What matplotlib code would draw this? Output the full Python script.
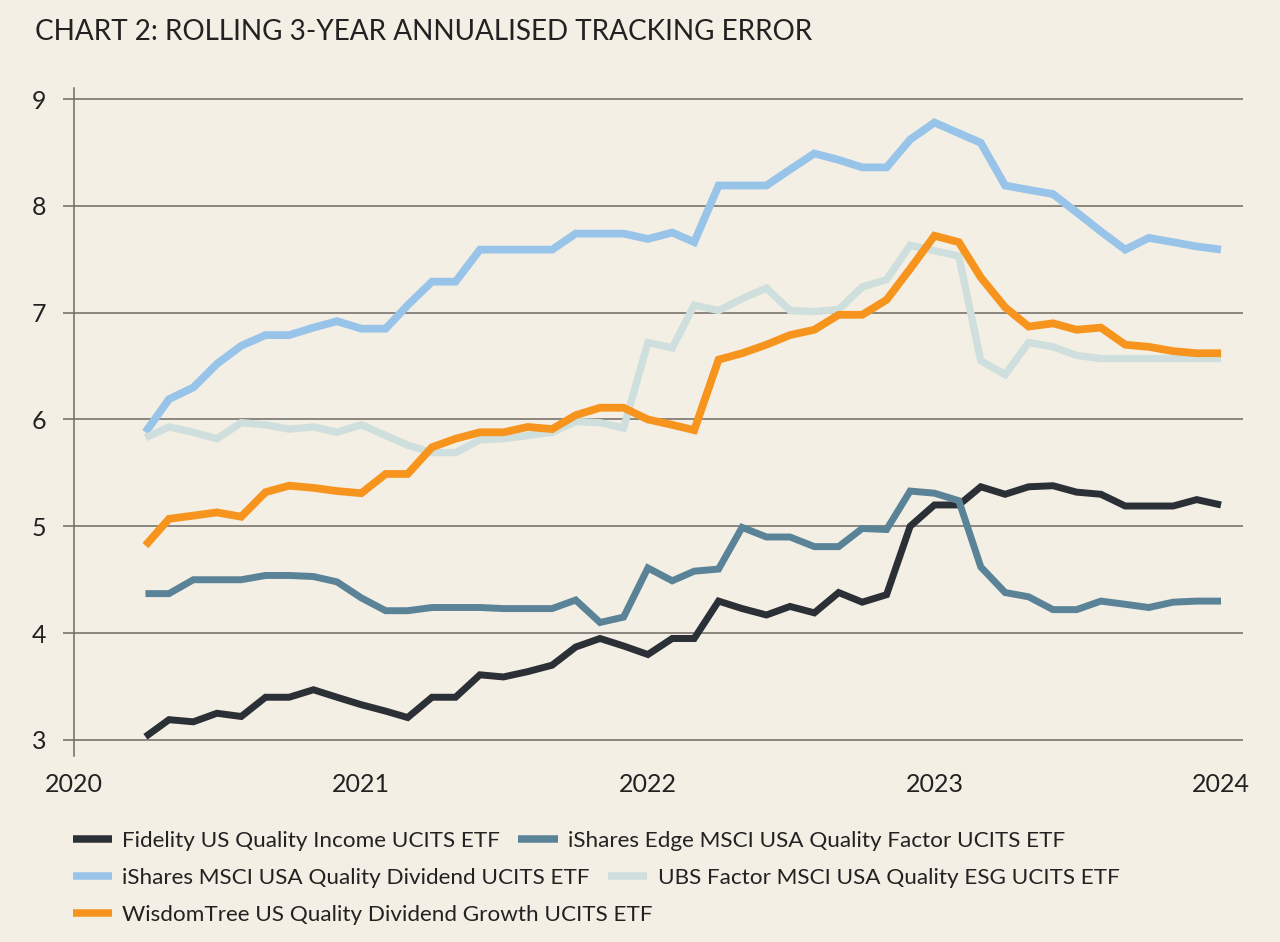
import matplotlib
matplotlib.use('Agg')
import matplotlib.pyplot as plt
from matplotlib.lines import Line2D
import pandas as pd

plt.rcParams['font.family'] = ['Lato', 'DejaVu Sans']
plt.rcParams['font.weight'] = 'normal'

# ---------------- data ----------------
dates = pd.date_range('2020-04-01', '2024-01-01', freq='MS')

fidelity = [3.03, 3.19, 3.17, 3.25, 3.22, 3.40, 3.40, 3.47, 3.40, 3.33,
            3.27, 3.21, 3.40, 3.40, 3.61, 3.59, 3.64, 3.70, 3.87, 3.95,
            3.88, 3.80, 3.95, 3.95, 4.30, 4.23, 4.17, 4.25, 4.19, 4.38,
            4.29, 4.36, 5.00, 5.20, 5.20, 5.37, 5.30, 5.37, 5.38, 5.32,
            5.30, 5.19, 5.19, 5.19, 5.25, 5.20]

ishares_edge = [4.37, 4.37, 4.50, 4.50, 4.50, 4.54, 4.54, 4.53, 4.48, 4.33,
                4.21, 4.21, 4.24, 4.24, 4.24, 4.23, 4.23, 4.23, 4.31, 4.10,
                4.15, 4.61, 4.49, 4.58, 4.60, 4.99, 4.90, 4.90, 4.81, 4.81,
                4.98, 4.97, 5.33, 5.31, 5.24, 4.62, 4.38, 4.34, 4.22, 4.22,
                4.30, 4.27, 4.24, 4.29, 4.30, 4.30]

ishares_div = [5.88, 6.19, 6.30, 6.52, 6.69, 6.79, 6.79, 6.86, 6.92, 6.85,
               6.85, 7.07, 7.29, 7.29, 7.59, 7.59, 7.59, 7.59, 7.74, 7.74,
               7.74, 7.69, 7.75, 7.66, 8.19, 8.19, 8.19, 8.34, 8.49, 8.43,
               8.36, 8.36, 8.62, 8.78, 8.68, 8.59, 8.19, 8.15, 8.11, 7.94,
               7.76, 7.59, 7.70, 7.66, 7.62, 7.59]

ubs = [5.83, 5.93, 5.88, 5.82, 5.97, 5.95, 5.91, 5.93, 5.88, 5.95,
       5.85, 5.76, 5.69, 5.69, 5.81, 5.82, 5.85, 5.88, 5.98, 5.97,
       5.92, 6.72, 6.67, 7.07, 7.02, 7.13, 7.23, 7.02, 7.01, 7.03,
       7.24, 7.31, 7.63, 7.58, 7.53, 6.55, 6.42, 6.72, 6.68, 6.60,
       6.57, 6.57, 6.57, 6.57, 6.57, 6.57]

wisdomtree = [4.82, 5.07, 5.10, 5.13, 5.09, 5.32, 5.38, 5.36, 5.33, 5.31,
              5.49, 5.49, 5.74, 5.82, 5.88, 5.88, 5.93, 5.91, 6.04, 6.11,
              6.11, 6.00, 5.95, 5.90, 6.56, 6.62, 6.70, 6.79, 6.84, 6.98,
              6.98, 7.12, 7.41, 7.72, 7.66, 7.33, 7.05, 6.87, 6.90, 6.84,
              6.86, 6.70, 6.68, 6.64, 6.62, 6.62]

series_names = ['Fidelity US Quality Income UCITS ETF',
                'iShares Edge MSCI USA Quality Factor UCITS ETF',
                'iShares MSCI USA Quality Dividend UCITS ETF',
                'UBS Factor MSCI USA Quality ESG UCITS ETF',
                'WisdomTree US Quality Dividend Growth UCITS ETF']
series_values = [fidelity, ishares_edge, ishares_div, ubs, wisdomtree]
series_colors = ['#2b2f36', '#5a8398', '#98c4ea', '#cfdfdd', '#f7941d']
series_widths = [5.0, 5.0, 5.6, 5.3, 5.6]

year_ticks = [2020, 2021, 2022, 2023, 2024]
y_ticks = [3, 4, 5, 6, 7, 8, 9]

BG = '#f4efe4'
GRID = '#6f6a62'
TXT = '#222222'

W, H = 1280, 942
fig = plt.figure(figsize=(W / 100, H / 100), dpi=100)
fig.patch.set_facecolor(BG)
ax = fig.add_axes([74 / W, 1 - 756 / H, (1243 - 74) / W, (756 - 88) / H])
ax.set_facecolor(BG)

handles = []
for name, vals, col, lw in zip(series_names, series_values, series_colors, series_widths):
    ax.plot(dates, vals, color=col, lw=lw, solid_joinstyle='miter',
            solid_capstyle='butt', label=name)
    handles.append(Line2D([0], [0], color=col, lw=5.4, solid_capstyle='butt'))

ax.set_xlim(pd.Timestamp('2020-01-01'), pd.Timestamp('2024-01-29'))
ax.set_ylim(2.85, 9.103)
ax.set_xticks([pd.Timestamp(f'{y}-01-01') for y in year_ticks])
ax.set_xticklabels([str(y) for y in year_ticks])
ax.set_yticks(y_ticks)
ax.set_yticklabels([str(v) for v in y_ticks])

ax.yaxis.grid(True, color=GRID, lw=1.1)
ax.set_axisbelow(True)
for s in ['top', 'right', 'bottom']:
    ax.spines[s].set_visible(False)
ax.spines['left'].set_color(GRID)
ax.spines['left'].set_linewidth(1.1)

ax.tick_params(axis='y', length=8, width=1.1, color=GRID, pad=12,
               labelsize=18, labelcolor=TXT)
ax.tick_params(axis='x', length=0, pad=12, labelsize=18, labelcolor=TXT)

fig.text(35 / W, 1 - 40 / H, 'CHART 2: ROLLING 3-YEAR ANNUALISED TRACKING ERROR',
         fontsize=20.1, color=TXT, va='baseline', ha='left')

rows = [([0, 1], 841), ([2, 3], 878), ([4], 915)]
for idx, yc in rows:
    fig.legend([handles[i] for i in idx], [series_names[i] for i in idx],
               loc='center left', bbox_to_anchor=(73 / W, 1 - yc / H),
               ncol=len(idx), frameon=False, fontsize=16.2, labelcolor=TXT,
               handlelength=1.75, handletextpad=0.45, columnspacing=0.8,
               borderpad=0, borderaxespad=0)

fig.savefig('out.png', dpi=100, facecolor=BG)
